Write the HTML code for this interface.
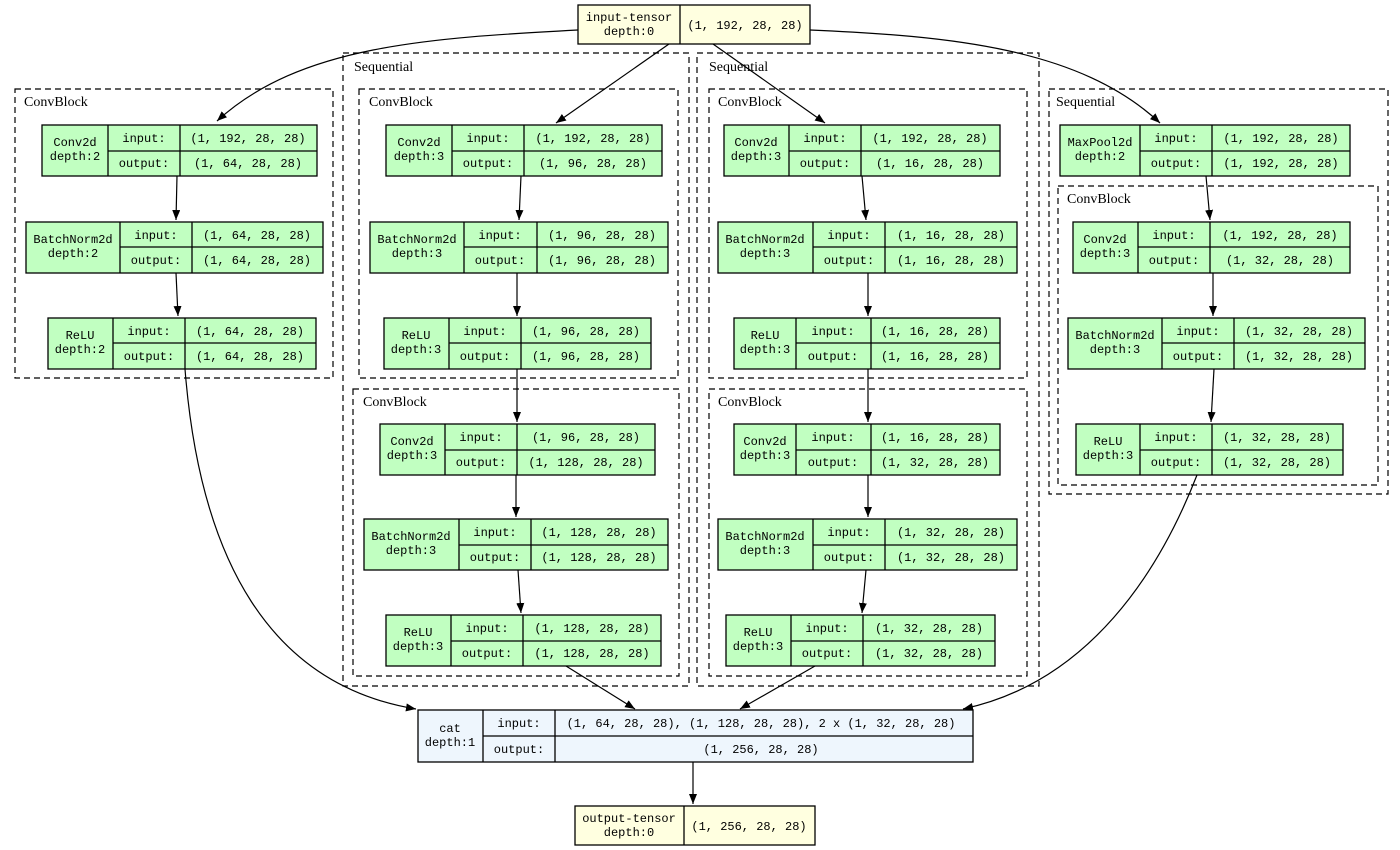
<!DOCTYPE html>
<html><head><meta charset="utf-8"><style>
html,body{margin:0;padding:0;background:#fff;}
svg{display:block;}
.m{font-family:"Liberation Mono",monospace;font-size:12px;fill:#000;}
.s{font-family:"Liberation Serif",serif;font-size:14px;fill:#000;}
.cl{fill:none;stroke:#000;stroke-width:1.2;stroke-dasharray:6,4;}
.n rect{stroke:#000;stroke-width:1.3;}
.n line{stroke:#000;stroke-width:1.3;}
.e{fill:none;stroke:#000;stroke-width:1.2;}
</style></head><body>
<svg width="1400" height="850" viewBox="0 0 1400 850" xmlns="http://www.w3.org/2000/svg">
<defs><marker id="a" markerWidth="10" markerHeight="8" refX="10" refY="4" orient="auto" markerUnits="userSpaceOnUse"><path d="M0,0 L10,4 L0,8 z" fill="#000"/></marker></defs>

<!-- clusters -->
<rect class="cl" x="15" y="89" width="318" height="289"/><text class="s" x="24" y="106">ConvBlock</text>
<rect class="cl" x="343" y="53" width="346" height="633"/><text class="s" x="354" y="71">Sequential</text>
<rect class="cl" x="359" y="89" width="319" height="289"/><text class="s" x="369" y="106">ConvBlock</text>
<rect class="cl" x="353" y="389" width="326" height="287"/><text class="s" x="363" y="406">ConvBlock</text>
<rect class="cl" x="697" y="53" width="342" height="633"/><text class="s" x="709" y="71">Sequential</text>
<rect class="cl" x="709" y="89" width="318" height="289"/><text class="s" x="718" y="106">ConvBlock</text>
<rect class="cl" x="709" y="389" width="318" height="287"/><text class="s" x="718" y="406">ConvBlock</text>
<rect class="cl" x="1049" y="89" width="339" height="405"/><text class="s" x="1056" y="106">Sequential</text>
<rect class="cl" x="1058" y="186" width="320" height="299"/><text class="s" x="1067" y="203">ConvBlock</text>

<!-- edges -->
<path class="e" marker-end="url(#a)" d="M578,30 C430,38 300,45 217,121"/>
<path class="e" marker-end="url(#a)" d="M669,44 L556,123"/>
<path class="e" marker-end="url(#a)" d="M713,44 L825,123"/>
<path class="e" marker-end="url(#a)" d="M810,30 C950,36 1080,48 1160,123"/>
<path class="e" marker-end="url(#a)" d="M177,176 L176,220"/>
<path class="e" marker-end="url(#a)" d="M176,273 L178,316"/>
<path class="e" marker-end="url(#a)" d="M185,369 C200,560 270,685 416,709"/>
<path class="e" marker-end="url(#a)" d="M521,176 L519,220"/>
<path class="e" marker-end="url(#a)" d="M517,273 L517,316"/>
<path class="e" marker-end="url(#a)" d="M517,369 L517,422"/>
<path class="e" marker-end="url(#a)" d="M516,475 L516,517"/>
<path class="e" marker-end="url(#a)" d="M518,570 L521,613"/>
<path class="e" marker-end="url(#a)" d="M566,666 L635,709"/>
<path class="e" marker-end="url(#a)" d="M862,176 L866,220"/>
<path class="e" marker-end="url(#a)" d="M868,273 L868,316"/>
<path class="e" marker-end="url(#a)" d="M868,369 L868,422"/>
<path class="e" marker-end="url(#a)" d="M868,475 L868,517"/>
<path class="e" marker-end="url(#a)" d="M866,570 L862,613"/>
<path class="e" marker-end="url(#a)" d="M815,666 L740,709"/>
<path class="e" marker-end="url(#a)" d="M1206,176 L1210,220"/>
<path class="e" marker-end="url(#a)" d="M1213,273 L1213,316"/>
<path class="e" marker-end="url(#a)" d="M1214,369 L1211,422"/>
<path class="e" marker-end="url(#a)" d="M1197,475 C1160,570 1090,682 963,709"/>
<path class="e" marker-end="url(#a)" d="M693,762 L693,804"/>

<!-- input tensor -->
<g class="n"><rect x="578" y="5" width="232" height="39" fill="#ffffe0"/><line x1="680" y1="5" x2="680" y2="44"/></g>
<text class="m" x="629" y="21" text-anchor="middle">input-tensor</text><text class="m" x="629" y="35" text-anchor="middle">depth:0</text>
<text class="m" x="745" y="29" text-anchor="middle">(1, 192, 28, 28)</text>

<!-- output tensor -->
<g class="n"><rect x="575" y="806" width="240" height="39" fill="#ffffe0"/><line x1="684" y1="806" x2="684" y2="845"/></g>
<text class="m" x="629" y="822" text-anchor="middle">output-tensor</text><text class="m" x="629" y="836" text-anchor="middle">depth:0</text>
<text class="m" x="749" y="830" text-anchor="middle">(1, 256, 28, 28)</text>

<!-- left convblock -->
<g class="n"><rect x="42" y="125" width="275" height="51" fill="#c1ffc1"/><line x1="108" y1="125" x2="108" y2="176"/><line x1="180" y1="125" x2="180" y2="176"/><line x1="108" y1="151" x2="317" y2="151"/></g>
<text class="m" x="75" y="146" text-anchor="middle">Conv2d</text><text class="m" x="75" y="160" text-anchor="middle">depth:2</text>
<text class="m" x="144" y="142" text-anchor="middle">input:</text><text class="m" x="144" y="167" text-anchor="middle">output:</text>
<text class="m" x="248" y="142" text-anchor="middle">(1, 192, 28, 28)</text><text class="m" x="248" y="167" text-anchor="middle">(1, 64, 28, 28)</text>

<g class="n"><rect x="26" y="222" width="297" height="51" fill="#c1ffc1"/><line x1="120" y1="222" x2="120" y2="273"/><line x1="192" y1="222" x2="192" y2="273"/><line x1="120" y1="247" x2="323" y2="247"/></g>
<text class="m" x="73" y="243" text-anchor="middle">BatchNorm2d</text><text class="m" x="73" y="257" text-anchor="middle">depth:2</text>
<text class="m" x="156" y="239" text-anchor="middle">input:</text><text class="m" x="156" y="264" text-anchor="middle">output:</text>
<text class="m" x="257" y="239" text-anchor="middle">(1, 64, 28, 28)</text><text class="m" x="257" y="264" text-anchor="middle">(1, 64, 28, 28)</text>

<g class="n"><rect x="48" y="318" width="268" height="51" fill="#c1ffc1"/><line x1="113" y1="318" x2="113" y2="369"/><line x1="185" y1="318" x2="185" y2="369"/><line x1="113" y1="343" x2="316" y2="343"/></g>
<text class="m" x="80" y="339" text-anchor="middle">ReLU</text><text class="m" x="80" y="353" text-anchor="middle">depth:2</text>
<text class="m" x="149" y="335" text-anchor="middle">input:</text><text class="m" x="149" y="360" text-anchor="middle">output:</text>
<text class="m" x="250" y="335" text-anchor="middle">(1, 64, 28, 28)</text><text class="m" x="250" y="360" text-anchor="middle">(1, 64, 28, 28)</text>

<!-- seq2 -->
<g class="n"><rect x="386" y="125" width="276" height="51" fill="#c1ffc1"/><line x1="452" y1="125" x2="452" y2="176"/><line x1="524" y1="125" x2="524" y2="176"/><line x1="452" y1="151" x2="662" y2="151"/></g>
<text class="m" x="419" y="146" text-anchor="middle">Conv2d</text><text class="m" x="419" y="160" text-anchor="middle">depth:3</text>
<text class="m" x="488" y="142" text-anchor="middle">input:</text><text class="m" x="488" y="167" text-anchor="middle">output:</text>
<text class="m" x="593" y="142" text-anchor="middle">(1, 192, 28, 28)</text><text class="m" x="593" y="167" text-anchor="middle">(1, 96, 28, 28)</text>

<g class="n"><rect x="370" y="222" width="298" height="51" fill="#c1ffc1"/><line x1="464" y1="222" x2="464" y2="273"/><line x1="537" y1="222" x2="537" y2="273"/><line x1="464" y1="247" x2="668" y2="247"/></g>
<text class="m" x="417" y="243" text-anchor="middle">BatchNorm2d</text><text class="m" x="417" y="257" text-anchor="middle">depth:3</text>
<text class="m" x="500" y="239" text-anchor="middle">input:</text><text class="m" x="500" y="264" text-anchor="middle">output:</text>
<text class="m" x="602" y="239" text-anchor="middle">(1, 96, 28, 28)</text><text class="m" x="602" y="264" text-anchor="middle">(1, 96, 28, 28)</text>

<g class="n"><rect x="384" y="318" width="267" height="51" fill="#c1ffc1"/><line x1="449" y1="318" x2="449" y2="369"/><line x1="521" y1="318" x2="521" y2="369"/><line x1="449" y1="343" x2="651" y2="343"/></g>
<text class="m" x="416" y="339" text-anchor="middle">ReLU</text><text class="m" x="416" y="353" text-anchor="middle">depth:3</text>
<text class="m" x="485" y="335" text-anchor="middle">input:</text><text class="m" x="485" y="360" text-anchor="middle">output:</text>
<text class="m" x="586" y="335" text-anchor="middle">(1, 96, 28, 28)</text><text class="m" x="586" y="360" text-anchor="middle">(1, 96, 28, 28)</text>

<g class="n"><rect x="380" y="424" width="275" height="51" fill="#c1ffc1"/><line x1="445" y1="424" x2="445" y2="475"/><line x1="517" y1="424" x2="517" y2="475"/><line x1="445" y1="450" x2="655" y2="450"/></g>
<text class="m" x="412" y="445" text-anchor="middle">Conv2d</text><text class="m" x="412" y="459" text-anchor="middle">depth:3</text>
<text class="m" x="481" y="441" text-anchor="middle">input:</text><text class="m" x="481" y="466" text-anchor="middle">output:</text>
<text class="m" x="586" y="441" text-anchor="middle">(1, 96, 28, 28)</text><text class="m" x="586" y="466" text-anchor="middle">(1, 128, 28, 28)</text>

<g class="n"><rect x="364" y="519" width="304" height="51" fill="#c1ffc1"/><line x1="459" y1="519" x2="459" y2="570"/><line x1="531" y1="519" x2="531" y2="570"/><line x1="459" y1="545" x2="668" y2="545"/></g>
<text class="m" x="411" y="540" text-anchor="middle">BatchNorm2d</text><text class="m" x="411" y="554" text-anchor="middle">depth:3</text>
<text class="m" x="495" y="536" text-anchor="middle">input:</text><text class="m" x="495" y="561" text-anchor="middle">output:</text>
<text class="m" x="599" y="536" text-anchor="middle">(1, 128, 28, 28)</text><text class="m" x="599" y="561" text-anchor="middle">(1, 128, 28, 28)</text>

<g class="n"><rect x="386" y="615" width="275" height="51" fill="#c1ffc1"/><line x1="451" y1="615" x2="451" y2="666"/><line x1="523" y1="615" x2="523" y2="666"/><line x1="451" y1="641" x2="661" y2="641"/></g>
<text class="m" x="418" y="636" text-anchor="middle">ReLU</text><text class="m" x="418" y="650" text-anchor="middle">depth:3</text>
<text class="m" x="487" y="632" text-anchor="middle">input:</text><text class="m" x="487" y="657" text-anchor="middle">output:</text>
<text class="m" x="592" y="632" text-anchor="middle">(1, 128, 28, 28)</text><text class="m" x="592" y="657" text-anchor="middle">(1, 128, 28, 28)</text>

<!-- seq3 -->
<g class="n"><rect x="724" y="125" width="276" height="51" fill="#c1ffc1"/><line x1="789" y1="125" x2="789" y2="176"/><line x1="861" y1="125" x2="861" y2="176"/><line x1="789" y1="151" x2="1000" y2="151"/></g>
<text class="m" x="756" y="146" text-anchor="middle">Conv2d</text><text class="m" x="756" y="160" text-anchor="middle">depth:3</text>
<text class="m" x="825" y="142" text-anchor="middle">input:</text><text class="m" x="825" y="167" text-anchor="middle">output:</text>
<text class="m" x="930" y="142" text-anchor="middle">(1, 192, 28, 28)</text><text class="m" x="930" y="167" text-anchor="middle">(1, 16, 28, 28)</text>

<g class="n"><rect x="718" y="222" width="299" height="51" fill="#c1ffc1"/><line x1="813" y1="222" x2="813" y2="273"/><line x1="885" y1="222" x2="885" y2="273"/><line x1="813" y1="247" x2="1017" y2="247"/></g>
<text class="m" x="765" y="243" text-anchor="middle">BatchNorm2d</text><text class="m" x="765" y="257" text-anchor="middle">depth:3</text>
<text class="m" x="849" y="239" text-anchor="middle">input:</text><text class="m" x="849" y="264" text-anchor="middle">output:</text>
<text class="m" x="951" y="239" text-anchor="middle">(1, 16, 28, 28)</text><text class="m" x="951" y="264" text-anchor="middle">(1, 16, 28, 28)</text>

<g class="n"><rect x="734" y="318" width="266" height="51" fill="#c1ffc1"/><line x1="796" y1="318" x2="796" y2="369"/><line x1="871" y1="318" x2="871" y2="369"/><line x1="796" y1="343" x2="1000" y2="343"/></g>
<text class="m" x="765" y="339" text-anchor="middle">ReLU</text><text class="m" x="765" y="353" text-anchor="middle">depth:3</text>
<text class="m" x="833" y="335" text-anchor="middle">input:</text><text class="m" x="833" y="360" text-anchor="middle">output:</text>
<text class="m" x="935" y="335" text-anchor="middle">(1, 16, 28, 28)</text><text class="m" x="935" y="360" text-anchor="middle">(1, 16, 28, 28)</text>

<g class="n"><rect x="734" y="424" width="266" height="51" fill="#c1ffc1"/><line x1="796" y1="424" x2="796" y2="475"/><line x1="871" y1="424" x2="871" y2="475"/><line x1="796" y1="450" x2="1000" y2="450"/></g>
<text class="m" x="765" y="445" text-anchor="middle">Conv2d</text><text class="m" x="765" y="459" text-anchor="middle">depth:3</text>
<text class="m" x="833" y="441" text-anchor="middle">input:</text><text class="m" x="833" y="466" text-anchor="middle">output:</text>
<text class="m" x="935" y="441" text-anchor="middle">(1, 16, 28, 28)</text><text class="m" x="935" y="466" text-anchor="middle">(1, 32, 28, 28)</text>

<g class="n"><rect x="718" y="519" width="299" height="51" fill="#c1ffc1"/><line x1="813" y1="519" x2="813" y2="570"/><line x1="885" y1="519" x2="885" y2="570"/><line x1="813" y1="545" x2="1017" y2="545"/></g>
<text class="m" x="765" y="540" text-anchor="middle">BatchNorm2d</text><text class="m" x="765" y="554" text-anchor="middle">depth:3</text>
<text class="m" x="849" y="536" text-anchor="middle">input:</text><text class="m" x="849" y="561" text-anchor="middle">output:</text>
<text class="m" x="951" y="536" text-anchor="middle">(1, 32, 28, 28)</text><text class="m" x="951" y="561" text-anchor="middle">(1, 32, 28, 28)</text>

<g class="n"><rect x="726" y="615" width="269" height="51" fill="#c1ffc1"/><line x1="791" y1="615" x2="791" y2="666"/><line x1="863" y1="615" x2="863" y2="666"/><line x1="791" y1="641" x2="995" y2="641"/></g>
<text class="m" x="758" y="636" text-anchor="middle">ReLU</text><text class="m" x="758" y="650" text-anchor="middle">depth:3</text>
<text class="m" x="827" y="632" text-anchor="middle">input:</text><text class="m" x="827" y="657" text-anchor="middle">output:</text>
<text class="m" x="929" y="632" text-anchor="middle">(1, 32, 28, 28)</text><text class="m" x="929" y="657" text-anchor="middle">(1, 32, 28, 28)</text>

<!-- seq4 -->
<g class="n"><rect x="1060" y="125" width="290" height="51" fill="#c1ffc1"/><line x1="1140" y1="125" x2="1140" y2="176"/><line x1="1212" y1="125" x2="1212" y2="176"/><line x1="1140" y1="151" x2="1350" y2="151"/></g>
<text class="m" x="1100" y="146" text-anchor="middle">MaxPool2d</text><text class="m" x="1100" y="160" text-anchor="middle">depth:2</text>
<text class="m" x="1176" y="142" text-anchor="middle">input:</text><text class="m" x="1176" y="167" text-anchor="middle">output:</text>
<text class="m" x="1281" y="142" text-anchor="middle">(1, 192, 28, 28)</text><text class="m" x="1281" y="167" text-anchor="middle">(1, 192, 28, 28)</text>

<g class="n"><rect x="1073" y="222" width="277" height="51" fill="#c1ffc1"/><line x1="1138" y1="222" x2="1138" y2="273"/><line x1="1210" y1="222" x2="1210" y2="273"/><line x1="1138" y1="247" x2="1350" y2="247"/></g>
<text class="m" x="1105" y="243" text-anchor="middle">Conv2d</text><text class="m" x="1105" y="257" text-anchor="middle">depth:3</text>
<text class="m" x="1174" y="239" text-anchor="middle">input:</text><text class="m" x="1174" y="264" text-anchor="middle">output:</text>
<text class="m" x="1280" y="239" text-anchor="middle">(1, 192, 28, 28)</text><text class="m" x="1280" y="264" text-anchor="middle">(1, 32, 28, 28)</text>

<g class="n"><rect x="1068" y="318" width="297" height="51" fill="#c1ffc1"/><line x1="1162" y1="318" x2="1162" y2="369"/><line x1="1234" y1="318" x2="1234" y2="369"/><line x1="1162" y1="343" x2="1365" y2="343"/></g>
<text class="m" x="1115" y="339" text-anchor="middle">BatchNorm2d</text><text class="m" x="1115" y="353" text-anchor="middle">depth:3</text>
<text class="m" x="1198" y="335" text-anchor="middle">input:</text><text class="m" x="1198" y="360" text-anchor="middle">output:</text>
<text class="m" x="1299" y="335" text-anchor="middle">(1, 32, 28, 28)</text><text class="m" x="1299" y="360" text-anchor="middle">(1, 32, 28, 28)</text>

<g class="n"><rect x="1076" y="424" width="267" height="51" fill="#c1ffc1"/><line x1="1140" y1="424" x2="1140" y2="475"/><line x1="1212" y1="424" x2="1212" y2="475"/><line x1="1140" y1="450" x2="1343" y2="450"/></g>
<text class="m" x="1108" y="445" text-anchor="middle">ReLU</text><text class="m" x="1108" y="459" text-anchor="middle">depth:3</text>
<text class="m" x="1176" y="441" text-anchor="middle">input:</text><text class="m" x="1176" y="466" text-anchor="middle">output:</text>
<text class="m" x="1277" y="441" text-anchor="middle">(1, 32, 28, 28)</text><text class="m" x="1277" y="466" text-anchor="middle">(1, 32, 28, 28)</text>

<!-- cat -->
<g class="n"><rect x="418" y="710" width="555" height="52" fill="#eef6fd"/><line x1="483" y1="710" x2="483" y2="762"/><line x1="555" y1="710" x2="555" y2="762"/><line x1="483" y1="736" x2="973" y2="736"/></g>
<text class="m" x="450" y="732" text-anchor="middle">cat</text><text class="m" x="450" y="746" text-anchor="middle">depth:1</text>
<text class="m" x="519" y="727" text-anchor="middle">input:</text><text class="m" x="519" y="753" text-anchor="middle">output:</text>
<text class="m" x="761" y="727" text-anchor="middle">(1, 64, 28, 28), (1, 128, 28, 28), 2 x (1, 32, 28, 28)</text>
<text class="m" x="761" y="753" text-anchor="middle">(1, 256, 28, 28)</text>
</svg>
</body></html>
